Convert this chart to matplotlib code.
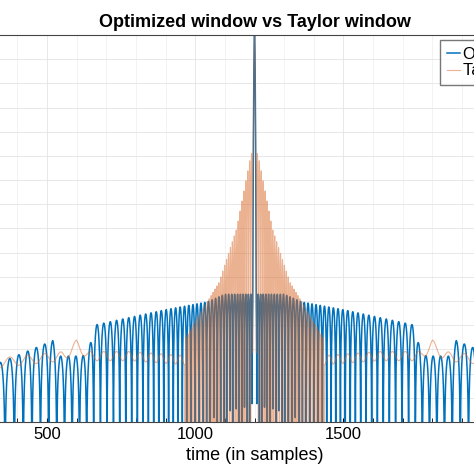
import numpy as np
import matplotlib
matplotlib.use("Agg")
import matplotlib.pyplot as plt
from matplotlib.ticker import MultipleLocator

plt.rcParams['font.family'] = ['Liberation Sans', 'DejaVu Sans']

# envelope keypoints (distance from centre in samples, normalized level)
center = 1200
blue_env_d = [0, 20, 100, 160, 300, 540, 560, 580, 660, 680, 900]
blue_env_v = [0.33, 0.33, 0.33, 0.31, 0.29, 0.25, 0.18, 0.17, 0.17, 0.21, 0.14]
taylor_env_d = [0, 15, 60, 120, 230, 240, 900]
taylor_env_v = [0.72, 0.68, 0.50, 0.36, 0.22, 0.20, 0.17]
taylor_far_d = [240, 420, 560, 600, 640, 900]
taylor_far_v = [0.16, 0.17, 0.17, 0.20, 0.17, 0.15]
xticks = [500, 1000, 1500]

t = np.arange(0, 2400.01, 0.25)
d = np.abs(t - center)
phi = np.pi / 0.028 * np.log(1 + 0.028 * d / 8)
benv = np.interp(d, blue_env_d, blue_env_v)
blue = benv + 0.09 * np.log(np.abs(np.sin(phi)) + 1e-6)
main = 1 - 0.7 * (d / 6) ** 2
blue = np.maximum(blue, main)

tenv = np.interp(d, taylor_env_d, taylor_env_v)
spikes = tenv + 0.2 * np.log(np.abs(np.sin(np.pi * d / 6.5)) + 1e-6)
far = np.interp(d, taylor_far_d, taylor_far_v) + 0.012 * np.sin(phi)
taylor = np.where(d < 235, spikes, far)
taylor = np.maximum(taylor, main)

fig = plt.figure(figsize=(4.74, 4.74), dpi=100)
x0, x1 = 342, 1940
left = -x0 / (x1 - x0)
width = 2400 / (x1 - x0)
ax = fig.add_axes([left, 0.11, width, 0.816])
ax.plot(t, blue, color=(0, 0.447, 0.741), lw=1.1, label='Optimized window')
ax.plot(t, taylor, color=(0.85, 0.40, 0.15), lw=0.8, alpha=0.5, label='Taylor window')
ax.set_xlim(0, 2400)
ax.set_ylim(0, 1)
ax.set_xticks(xticks)
ax.xaxis.set_minor_locator(MultipleLocator(100))
ax.set_yticks(np.arange(0, 1.01, 0.0625))
ax.set_yticklabels([])
ax.grid(True, which='major', color='#e4e4e4', lw=0.6)
ax.grid(True, which='minor', axis='x', color='#eeeeee', lw=0.5)
ax.tick_params(direction='in', labelsize=12, which='both', length=3)
ax.tick_params(axis='y', length=0)
for s in ax.spines.values():
    s.set_color('#444444')
ax.set_title('Optimized window vs Taylor window', fontsize=13, fontweight='bold')
ax.set_xlabel('time (in samples)', fontsize=13)
ax.legend(loc='upper right', fontsize=12, handlelength=0.8, handletextpad=0.2,
          fancybox=False, edgecolor='#555555', borderaxespad=0.3, labelspacing=0.1)
fig.savefig('out.png', dpi=100)
